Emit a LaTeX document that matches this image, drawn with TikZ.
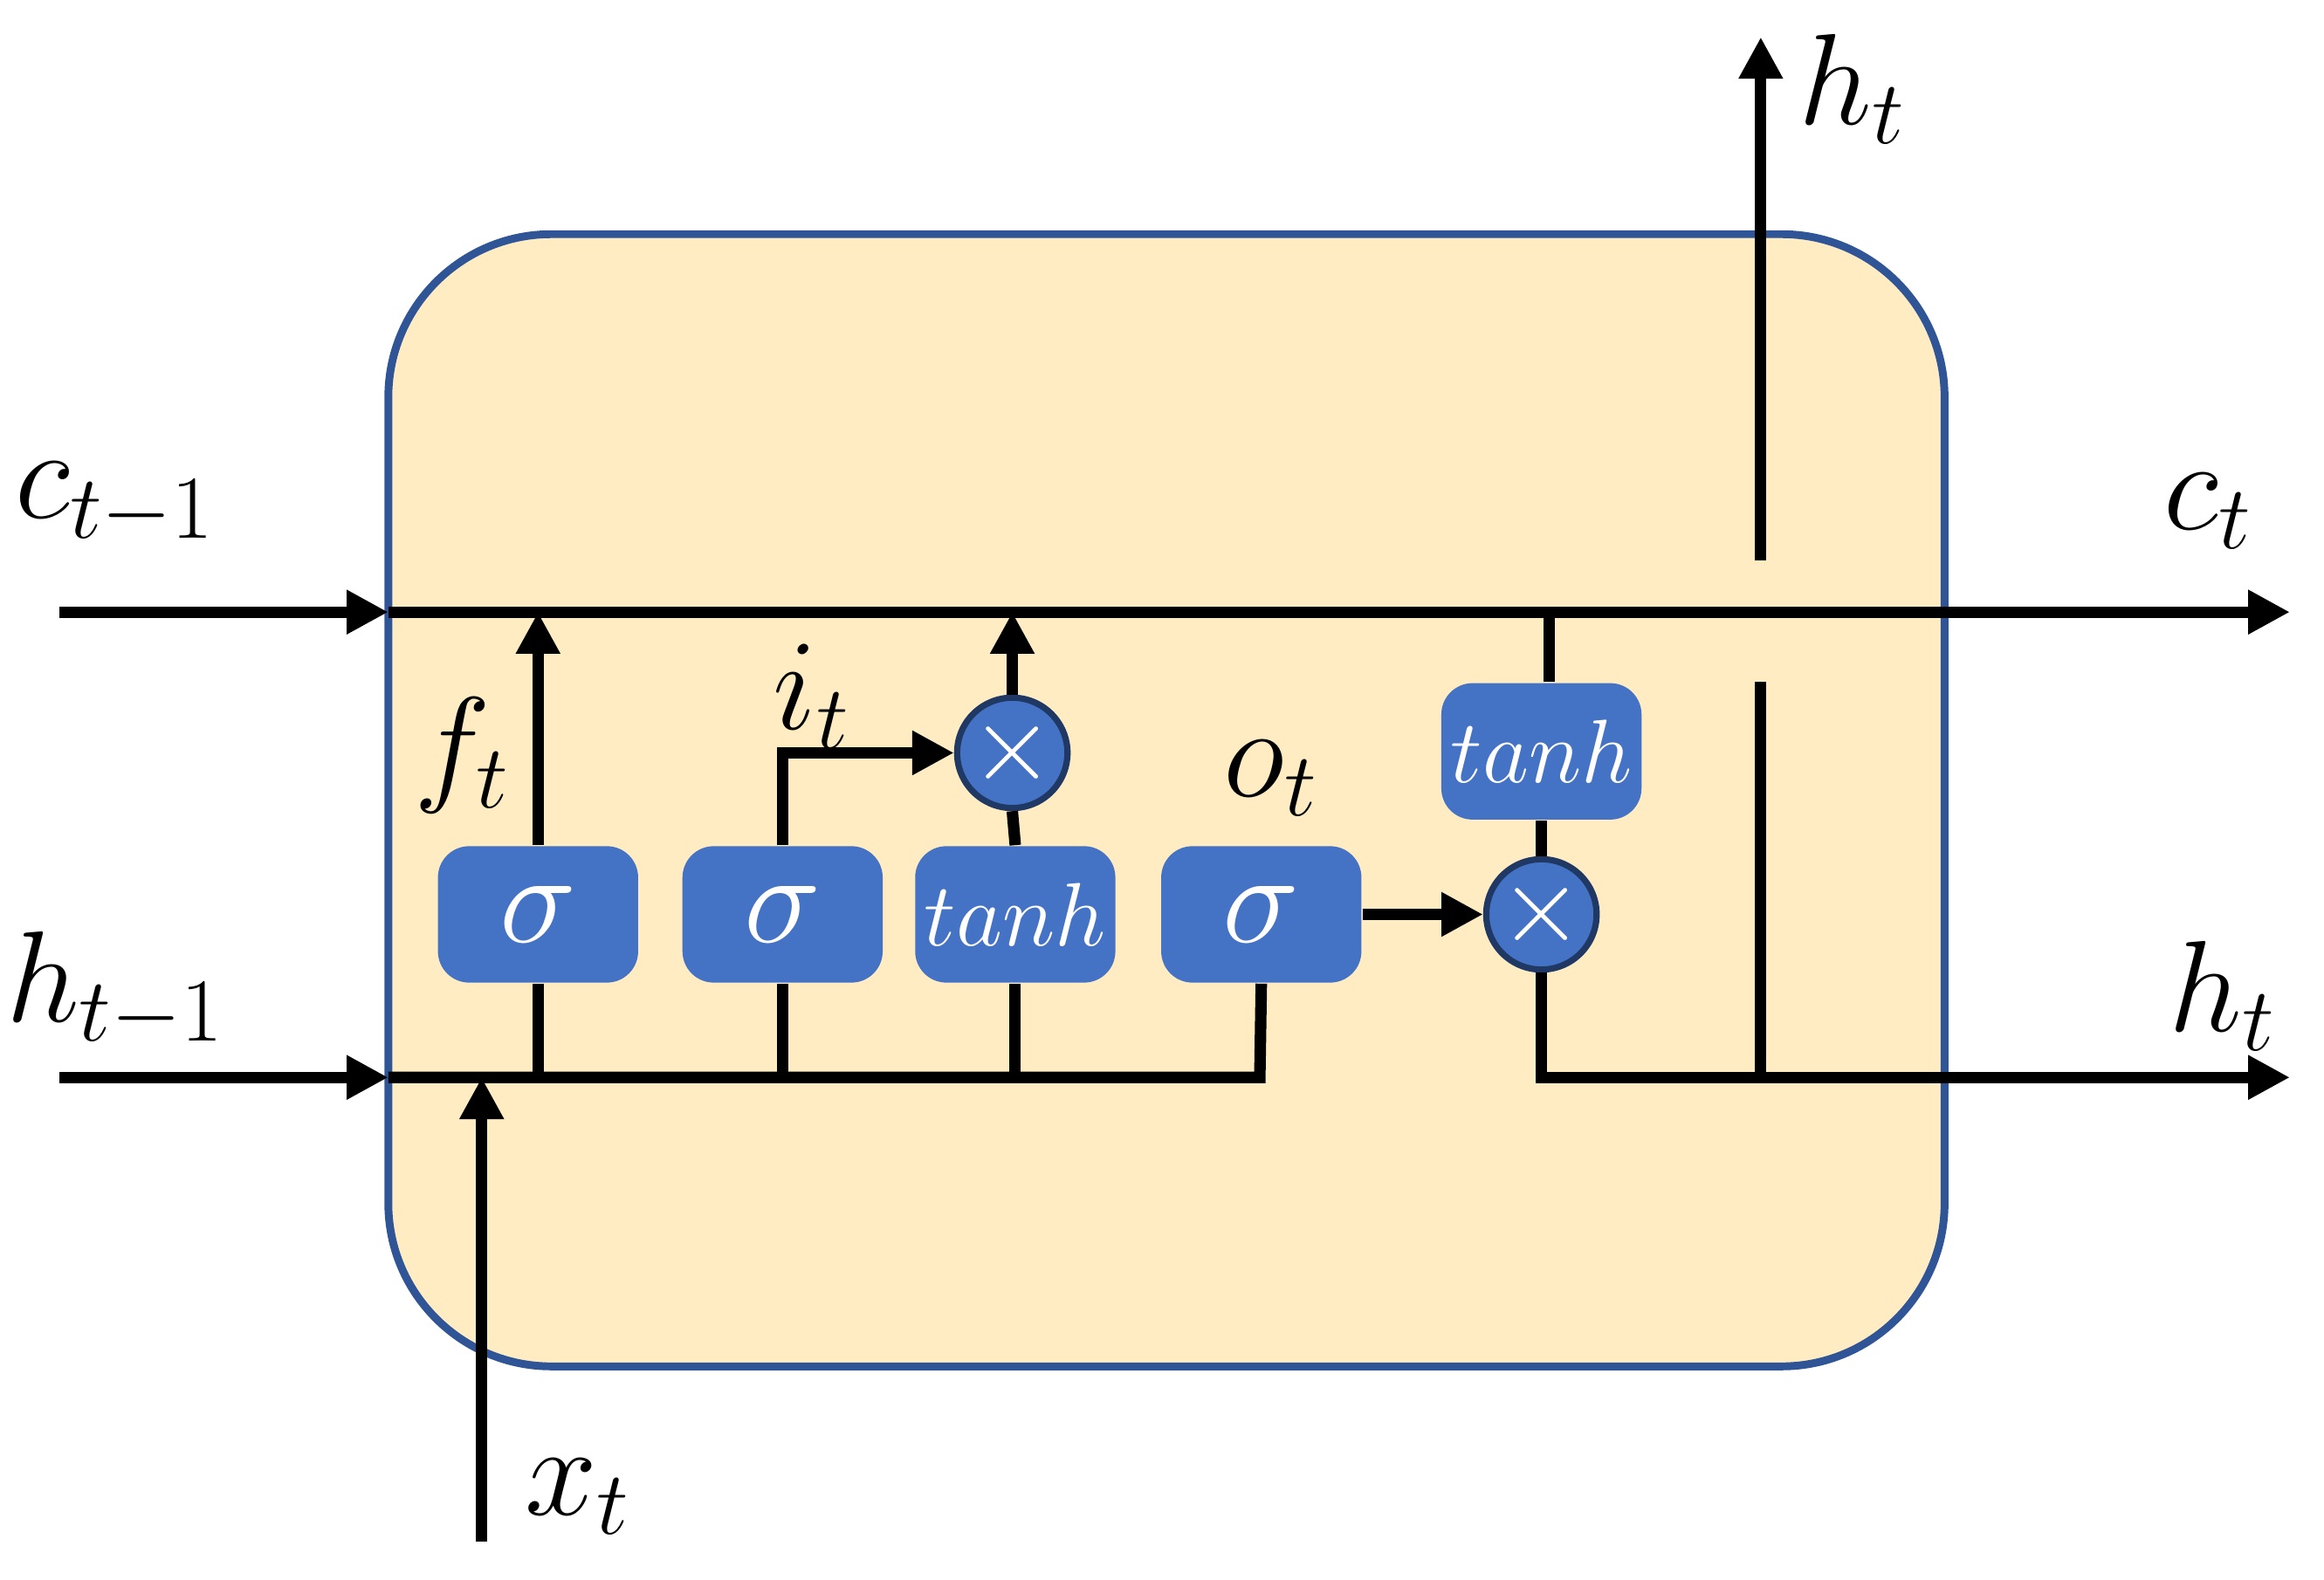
\documentclass[tikz,border=0pt]{standalone}
\usetikzlibrary{arrows.meta}
\definecolor{cellfill}{RGB}{255,236,194}
\definecolor{cellline}{RGB}{47,85,151}
\definecolor{gatefill}{RGB}{68,114,196}
\definecolor{opline}{RGB}{31,56,100}
\begin{document}
\begin{tikzpicture}[x=0.01cm,y=-0.01cm,
  flow/.style={line width=2.2pt},
  arr/.style={flow,-{Triangle[length=8pt,width=8pt]}},
  gate/.style={fill=gatefill,draw=none,rounded corners=6pt,minimum width=1.35cm,minimum height=0.92cm,text=white,inner sep=0pt},
  sig/.style={gate,font=\fontsize{24}{28}\selectfont},
  th/.style={gate,font=\fontsize{17}{20}\selectfont},
  op/.style={circle,fill=gatefill,draw=opline,line width=1.2pt,minimum size=0.6cm,inner sep=0pt,text=white,font=\bfseries\fontsize{20}{20}\selectfont},
  lbl/.style={font=\fontsize{24}{28}\selectfont}]
\useasboundingbox (0,0) rectangle (1568,1066);
\draw[cellline,fill=cellfill,line width=1.5pt,rounded corners=1.1cm] (262,158) rectangle (1312,922);
% nodes
\node[sig] (fg) at (363,617) {$\sigma$};
\node[sig] (ig) at (528,617) {$\sigma$};
\node[th] (cg) at (685,617) {$tanh$};
\node[sig] (og) at (851,617) {$\sigma$};
\node[th] (ct) at (1040,507) {$tanh$};
\node[op] (m1) at (683,508) {$\times$};
\node[op] (m2) at (1040,617) {$\times$};
\coordinate (cin) at (40,413); \coordinate (cl) at (262,413); \coordinate (cout) at (1545,413);
\coordinate (hin) at (40,727); \coordinate (hl) at (262,727); \coordinate (hout) at (1545,727);
\coordinate (xin) at (325,1040); \coordinate (xl) at (325,727);
\coordinate (htop) at (1188,25); \coordinate (hgap) at (1188,378); \coordinate (hgap2) at (1188,460);
% lines
\draw[arr] (cin) -- (cl);
\draw[arr] (cl) -- (cout);
\draw[arr] (hin) -- (hl);
\draw[flow] (hl) -- (850,727) -- (og.south);
\draw[arr] (xin) -- (xl);
\draw[flow] (fg.south) -- (363,727);
\draw[flow] (ig.south) -- (528,727);
\draw[flow] (cg.south) -- (685,727);
\draw[arr] (fg.north) -- (363,413);
\draw[arr] (ig.north) |- (m1.west);
\draw[flow] (cg.north) -- (m1.south);
\draw[arr] (m1.north) -- (683,413);
\draw[arr] (og.east) -- (m2.west);
\draw[flow] (1045,413) -- (ct.north -| 1045,0);
\draw[flow] (ct.south) -- (m2.north);
\draw[flow] (m2.south) |- (1188,727);
\draw[arr] (1188,727) -- (hout);
\draw[flow] (1188,727) -- (hgap2);
\draw[arr] (hgap) -- (htop);
% labels
\node[lbl] at (78,340) {$c_{t-1}$};
\node[lbl] at (78,668) {$h_{t-1}$};
\node[lbl] at (1490,345) {$c_t$};
\node[lbl] at (1500,672) {$h_t$};
\node[lbl] at (1250,60) {$h_t$};
\node[lbl] at (390,1010) {$x_t$};
\node[lbl] at (312,510) {$f_t$};
\node[lbl] at (548,470) {$i_t$};
\node[lbl] at (858,525) {$o_t$};
\end{tikzpicture}
\end{document}
